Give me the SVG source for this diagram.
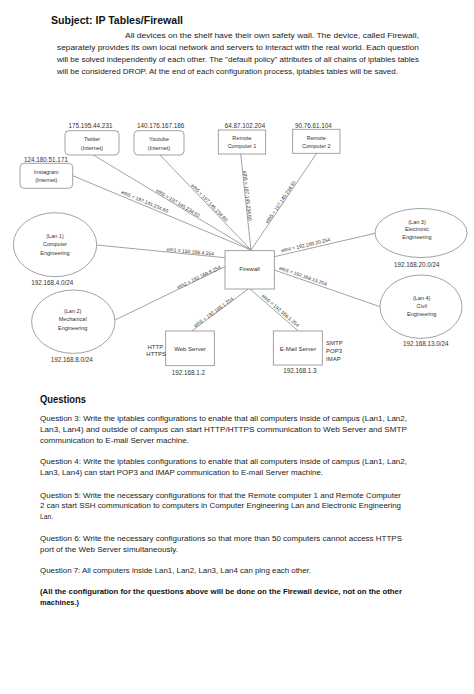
<svg xmlns="http://www.w3.org/2000/svg" width="474" height="694" viewBox="0 0 474 694">
<style>
text{font-family:"Liberation Sans",Arial,sans-serif;fill:#222}
.t{font-size:11.5px;font-weight:bold;fill:#111}
.p{font-size:7.3px}
.h{font-size:10px;font-weight:bold;fill:#111}
.b{font-weight:bold;fill:#111}
.n{font-size:5.5px;text-anchor:middle;fill:#333}
.ip{font-size:6.3px;text-anchor:middle;fill:#333}
.s{font-size:6px;fill:#333}
.l{font-size:5px;text-anchor:middle;fill:#333}
.box{fill:#fff;stroke:#8a8a8a;stroke-width:0.8}
.ell{fill:#fff;stroke:#8a8a8a;stroke-width:0.8}
.c line{stroke:#8a8a8a;stroke-width:0.8}
</style>
<rect width="474" height="694" fill="#fff"/>
<text class="t" x="51" y="23.5" textLength="132" lengthAdjust="spacingAndGlyphs">Subject: IP Tables/Firewall</text>
<text class="p" x="125" y="37.5" textLength="294" lengthAdjust="spacingAndGlyphs">All devices on the shelf have their own safety wall. The device, called Firewall,</text>
<text class="p" x="57" y="50" textLength="362" lengthAdjust="spacingAndGlyphs">separately provides its own local network and servers to interact with the real world. Each question</text>
<text class="p" x="57" y="62.3" textLength="362" lengthAdjust="spacingAndGlyphs">will be solved independently of each other. The "default policy" attributes of all chains of iptables tables</text>
<text class="p" x="57" y="74.2" textLength="341" lengthAdjust="spacingAndGlyphs">will be considered DROP. At the end of each configuration process, iptables tables will be saved.</text>

<g id="connectors" class="c">
<line x1="72.7" y1="175.7" x2="251" y2="250"/>
<line x1="93.3" y1="155" x2="251" y2="250"/>
<line x1="160" y1="155" x2="251" y2="250"/>
<line x1="240.7" y1="154" x2="251" y2="250"/>
<line x1="316.7" y1="153.3" x2="251" y2="250"/>
<line x1="96.7" y1="245" x2="225" y2="257.7"/>
<line x1="115" y1="320" x2="225" y2="266.7"/>
<line x1="191.7" y1="331" x2="248.3" y2="289"/>
<line x1="250" y1="289" x2="298.3" y2="331"/>
<line x1="274.3" y1="256.7" x2="375" y2="233.3"/>
<line x1="274.3" y1="270" x2="380" y2="306.7"/>
<text class="l" transform="translate(143.3,205.1) rotate(22.6)" y="-2">eth5 = 197.145.234.60</text>
<text class="l" transform="translate(176.7,205.2) rotate(31.1)" y="-0.8">eth5 = 197.145.234.60</text>
<text class="l" transform="translate(207.5,204.6) rotate(46.2)" y="-1">eth5 = 197.145.234.60</text>
<text class="l" transform="translate(245.2,196) rotate(83.9)" y="-0.6">eth5 = 197.145.234.60</text>
<text class="l" transform="translate(282.6,203.3) rotate(-55.9)" y="-0.6">eth5 = 197.145.234.60</text>
<text class="l" transform="translate(190,254.2) rotate(5.6)" y="-1">eth1 = 192.168.4.254</text>
<text class="l" transform="translate(200,279.2) rotate(-25.6)" y="-0.6">eth2 = 192.168.8.254</text>
<text class="l" transform="translate(215,314.1) rotate(-35.9)" y="-0.6">eth0 = 192.168.1.254</text>
<text class="l" transform="translate(278.3,313) rotate(40.3)" y="-1.5">eth0 = 192.168.1.254</text>
<text class="l" transform="translate(306.7,249.2) rotate(-13.1)" y="-2.5">eth4 = 192.168.20.254</text>
<text class="l" transform="translate(301.7,279.5) rotate(19.1)" y="-2">eth3 = 192.168.13.254</text>
</g>

<g id="twitter">
<text class="ip" x="90.5" y="127.5">175.195.44.231</text>
<rect class="box" x="65" y="130.7" width="54" height="24.3" rx="4"/>
<text class="n" x="92" y="141.2">Twitter</text>
<text class="n" x="92" y="149.6">(Internet)</text>
</g>
<g id="youtube">
<text class="ip" x="160.7" y="127.5">140.176.167.186</text>
<rect class="box" x="134" y="130.7" width="50" height="24.3" rx="4"/>
<text class="n" x="159" y="141.2">Youtube</text>
<text class="n" x="159" y="149.6">(Internet)</text>
</g>
<g id="instagram">
<text class="ip" x="46" y="162.3">124.180.51.171</text>
<rect class="box" x="20" y="163.3" width="52.7" height="25" rx="4"/>
<text class="n" x="46.3" y="173.8">Instagram</text>
<text class="n" x="46.3" y="182.2">(Internet)</text>
</g>
<g id="remote1">
<text class="ip" x="245" y="127.5">64.87.102.204</text>
<rect class="box" x="218.3" y="130" width="47.4" height="24"/>
<text class="n" x="242" y="140.2">Remote</text>
<text class="n" x="242" y="147.6">Computer 1</text>
</g>
<g id="remote2">
<text class="ip" x="313.3" y="127.5">90.76.61.104</text>
<rect class="box" x="292.7" y="129.3" width="47.3" height="24"/>
<text class="n" x="316.3" y="140.2">Remote</text>
<text class="n" x="316.3" y="147.6">Computer 2</text>
</g>
<g id="lan1">
<ellipse class="ell" cx="55" cy="244.7" rx="41.7" ry="32"/>
<text class="n" x="55" y="237.6">(Lan 1)</text>
<text class="n" x="55" y="246.2">Computer</text>
<text class="n" x="55" y="254.6">Engineering</text>
<text class="ip" x="52.3" y="284.5">192.168.4.0/24</text>
</g>
<g id="lan2">
<ellipse class="ell" cx="73.3" cy="321.7" rx="41.7" ry="31.7"/>
<text class="n" x="72.7" y="313">(Lan 2)</text>
<text class="n" x="72.7" y="321.3">Mechanical</text>
<text class="n" x="72.7" y="329.7">Engineering</text>
<text class="ip" x="71.7" y="361.5">192.168.8.0/24</text>
</g>
<g id="lan3">
<ellipse class="ell" cx="421" cy="233" rx="46" ry="24.5"/>
<text class="n" x="417" y="224.2">(Lan 3)</text>
<text class="n" x="417" y="231.3">Electronic</text>
<text class="n" x="417" y="238.8">Engineering</text>
<text class="ip" x="416.7" y="267">192.168.20.0/24</text>
</g>
<g id="lan4">
<ellipse class="ell" cx="421" cy="306.7" rx="41" ry="31.7"/>
<text class="n" x="421.7" y="299.7">(Lan 4)</text>
<text class="n" x="421.7" y="308">Civil</text>
<text class="n" x="421.7" y="316.3">Engineering</text>
<text class="ip" x="425.7" y="346.3">192.168.13.0/24</text>
</g>
<g id="firewall">
<rect class="box" x="225" y="250.7" width="49.3" height="38.3"/>
<text class="n" x="249.6" y="271" style="font-size:6px">Firewall</text>
</g>
<g id="webserver">
<rect class="box" x="165.7" y="331" width="48.6" height="34.7"/>
<text class="n" x="190" y="351.3" style="font-size:6px">Web Server</text>
<text class="s" x="147.5" y="348.7">HTTP</text>
<text class="s" x="146.3" y="355.5">HTTPS</text>
<text class="ip" x="188.3" y="375.3">192.168.1.2</text>
</g>
<g id="emailserver">
<rect class="box" x="273.3" y="331" width="49" height="34"/>
<text class="n" x="298" y="351" style="font-size:6px">E-Mail Server</text>
<text class="s" x="326" y="344.7">SMTP</text>
<text class="s" x="326" y="353">POP3</text>
<text class="s" x="326" y="361.3">IMAP</text>
<text class="ip" x="300" y="373">192.168.1.3</text>
</g>

<text class="h" x="40" y="402.5" textLength="46" lengthAdjust="spacingAndGlyphs">Questions</text>
<g class="p">
<text class="p" x="40" y="421" textLength="367" lengthAdjust="spacingAndGlyphs">Question 3: Write the iptables configurations to enable that all computers inside of campus (Lan1, Lan2,</text>
<text class="p" x="40" y="431.7" textLength="367" lengthAdjust="spacingAndGlyphs">Lan3, Lan4) and outside of campus can start HTTP/HTTPS communication to Web Server and SMTP</text>
<text class="p" x="40" y="443" textLength="149" lengthAdjust="spacingAndGlyphs">communication to E-mail Server machine.</text>
<text class="p" x="40" y="464.2" textLength="367" lengthAdjust="spacingAndGlyphs">Question 4: Write the iptables configurations to enable that all computers inside of campus (Lan1, Lan2,</text>
<text class="p" x="40" y="474.8" textLength="283" lengthAdjust="spacingAndGlyphs">Lan3, Lan4) can start POP3 and IMAP communication to E-mail  Server machine.</text>
<text class="p" x="40" y="497.5" textLength="361" lengthAdjust="spacingAndGlyphs">Question 5: Write the necessary configurations for that the Remote computer 1 and Remote Computer</text>
<text class="p" x="40" y="508.2" textLength="361" lengthAdjust="spacingAndGlyphs">2 can start SSH communication to computers in Computer Engineering Lan and Electronic Engineering</text>
<text class="p" x="40" y="519.2" textLength="13" lengthAdjust="spacingAndGlyphs">Lan.</text>
<text class="p" x="40" y="540.8" textLength="362" lengthAdjust="spacingAndGlyphs">Question 6: Write the necessary configurations so that more than 50 computers cannot access HTTPS</text>
<text class="p" x="40" y="551.5" textLength="138" lengthAdjust="spacingAndGlyphs">port of the Web Server simultaneously.</text>
<text class="p" x="40" y="573.2" textLength="271" lengthAdjust="spacingAndGlyphs">Question 7: All computers inside Lan1, Lan2, Lan3, Lan4 can ping each other.</text>
<text class="p b" x="40" y="594.2" textLength="362" lengthAdjust="spacingAndGlyphs">(All the configuration for the questions above will be done on the Firewall device, not on the other</text>
<text class="p b" x="40" y="604.8" textLength="39" lengthAdjust="spacingAndGlyphs">machines.)</text>
</g>
</svg>
